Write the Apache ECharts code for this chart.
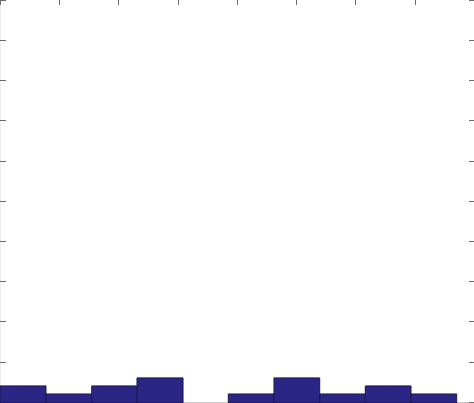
<!DOCTYPE html>
<html>
<head>
<meta charset="utf-8">
<script src="https://cdn.jsdelivr.net/npm/echarts@6/dist/echarts.min.js"></script>
<style>
html,body{margin:0;padding:0;background:#fff;}
#c{width:474px;height:403px;}
</style>
</head>
<body>
<div id="c"></div>
<script>
// Histogram bin edges (x units) and counts per bin
const binEdges = [0, 0.776, 1.548, 2.312, 3.089, 3.853, 4.624, 5.396, 6.165, 6.937, 7.708];
const counts = [2, 1, 2, 3, 0, 1, 3, 1, 2, 1];
const xTicksMax = 8;
const yTicksMax = 50;

const data = counts.map((c, i) => [binEdges[i], binEdges[i + 1], c]);

const chart = echarts.init(document.getElementById('c'));
const axisGrey = '#6a6a6a';
chart.setOption({
  animation: false,
  backgroundColor: '#fff',
  grid: {left: 0, right: 0, top: 0, bottom: 1, containLabel: false},
  xAxis: [
    {type: 'value', position: 'bottom', min: 0, max: xTicksMax, interval: 1,
     axisLine: {show: true, onZero: false, lineStyle: {color: '#c8c8c8', width: 1}},
     axisTick: {show: false}, axisLabel: {show: false}, splitLine: {show: false}},
    {type: 'value', position: 'top', min: 0, max: xTicksMax, interval: 1,
     axisLine: {show: false, onZero: false},
     axisTick: {show: true, inside: true, length: 5, lineStyle: {color: axisGrey}},
     axisLabel: {show: false}, splitLine: {show: false}}
  ],
  yAxis: [
    {type: 'value', position: 'left', min: 0, max: yTicksMax, interval: 5,
     axisLine: {show: true, onZero: false, lineStyle: {color: '#ececec'}},
     axisTick: {show: true, inside: true, length: 6, lineStyle: {color: axisGrey}},
     axisLabel: {show: false}, splitLine: {show: false}},
    {type: 'value', position: 'right', min: 0, max: yTicksMax, interval: 5,
     axisLine: {show: false, onZero: false},
     axisTick: {show: true, inside: true, length: 5, lineStyle: {color: axisGrey}},
     axisLabel: {show: false}, splitLine: {show: false}}
  ],
  series: [{
    type: 'custom',
    xAxisIndex: 0,
    yAxisIndex: 0,
    data: data,
    renderItem: function (params, api) {
      const c = api.value(2);
      if (!c) return null;
      const p0 = api.coord([api.value(0), c]);
      const p1 = api.coord([api.value(1), 0]);
      return {
        type: 'rect',
        shape: {x: p0[0], y: p0[1], width: p1[0] - p0[0], height: p1[1] - p0[1] + 1},
        style: {fill: '#2b2586', stroke: '#1c1a4a', lineWidth: 1}
      };
    }
  }]
});
</script>
</body>
</html>
